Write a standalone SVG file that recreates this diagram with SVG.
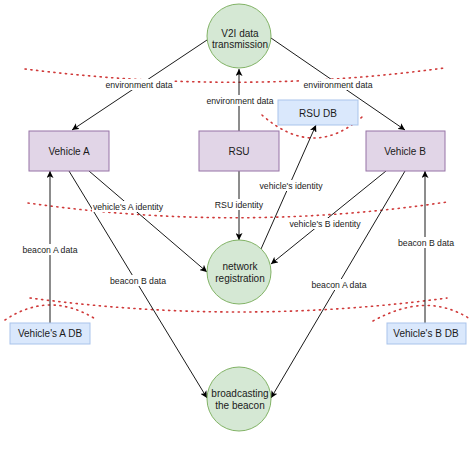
<svg xmlns="http://www.w3.org/2000/svg" width="474" height="453" viewBox="0 0 474 453">
<defs>
<marker id="arr" viewBox="0 0 10 10" refX="10" refY="5" markerWidth="7" markerHeight="7" orient="auto" markerUnits="userSpaceOnUse">
<path d="M0,0 L10,5 L0,10 L2.5,5 Z" fill="#000"/>
</marker>
<style>
.dot{fill:none;stroke:#d03a3a;stroke-width:1.6;stroke-dasharray:1.2 4.6;stroke-linecap:round}
.con{fill:none;stroke:#1a1a1a;stroke-width:1;marker-end:url(#arr)}
.veh{fill:#e1d5e7;stroke:#9673a6;stroke-width:1}
.circ{fill:#d5e8d4;stroke:#82b366;stroke-width:1}
.db{fill:#dae8fc;stroke:#a9c4eb;stroke-width:1}
.nt{font-family:"Liberation Sans",Arial,sans-serif;font-size:10px;fill:#1a1a1a;text-anchor:middle}
.lb{font-family:"Liberation Sans",Arial,sans-serif;font-size:8.7px;fill:#1a1a1a;text-anchor:middle}
.bg{fill:#fff}
</style>
</defs>
<rect width="474" height="453" fill="#fff"/>
<g id="boundaries">
<path class="dot" d="M25 69 Q239 96 444 68"/>
<path class="dot" d="M262 115 Q313 160 362 117"/>
<path class="dot" d="M28 203 Q239 233 447 202"/>
<path class="dot" d="M30 298 Q239 326 447 298"/>
<path class="dot" d="M5 320 Q50 290 97 320"/>
<path class="dot" d="M373 321 Q427 291 470 319"/>
</g>
<g id="connectors">
<path class="con" d="M207 40 L72 130"/>
<path class="con" d="M271 38 L405 130"/>
<path class="con" d="M239 131 L239 69"/>
<path class="con" d="M239 171 L239 240"/>
<path class="con" d="M261 249 L316 125"/>
<path class="con" d="M89 171 L207 272"/>
<path class="con" d="M386 171 L271 264"/>
<path class="con" d="M69 171 L207 398"/>
<path class="con" d="M405 171 L271 398"/>
<path class="con" d="M50 323 L50 171"/>
<path class="con" d="M425 323 L425 171"/>
<g id="labels">
<rect class="bg" x="104" y="79" width="70" height="11"/>
<text class="lb" x="139" y="87.5">environment data</text>
<rect class="bg" x="302" y="79" width="72" height="11"/>
<text class="lb" x="338" y="87.5">enviironment data</text>
<rect class="bg" x="205" y="95" width="70" height="11"/>
<text class="lb" x="240" y="103.5">environment data</text>
<rect class="bg" x="215" y="199" width="48" height="11"/>
<text class="lb" x="239" y="207.5">RSU identity</text>
<rect class="bg" x="259" y="180" width="65" height="11"/>
<text class="lb" x="291" y="188.5">vehicle's identity</text>
<rect class="bg" x="92" y="201" width="72" height="11"/>
<text class="lb" x="128" y="209.5">vehicle's A identity</text>
<rect class="bg" x="289" y="218" width="72" height="11"/>
<text class="lb" x="325" y="226.5">vehicle's B identity</text>
<rect class="bg" x="109" y="275" width="58" height="11"/>
<text class="lb" x="138" y="283.5">beacon B data</text>
<rect class="bg" x="310" y="279" width="58" height="11"/>
<text class="lb" x="339" y="287.5">beacon A data</text>
<rect class="bg" x="21" y="244" width="58" height="11"/>
<text class="lb" x="50" y="252.5">beacon A data</text>
<rect class="bg" x="397" y="237" width="58" height="11"/>
<text class="lb" x="426" y="245.5">beacon B data</text>
</g>
</g>
<g id="v2i">
<circle class="circ" cx="239" cy="36" r="32"/>
<text class="nt" x="240" y="37">V2I data</text>
<text class="nt" x="240" y="48">transmission</text>
</g>
<g id="vehicleA">
<rect class="veh" x="29" y="131" width="80" height="40"/>
<text class="nt" x="69" y="155">Vehicle A</text>
</g>
<g id="rsu">
<rect class="veh" x="199" y="131" width="80" height="40"/>
<text class="nt" x="239" y="155">RSU</text>
</g>
<g id="vehicleB">
<rect class="veh" x="366" y="131" width="79" height="40"/>
<text class="nt" x="405" y="155">Vehicle B</text>
</g>
<g id="rsuDB">
<rect class="db" x="278" y="100" width="80" height="25"/>
<text class="nt" x="318" y="116.5">RSU DB</text>
</g>
<g id="netreg">
<circle class="circ" cx="239" cy="272" r="32"/>
<text class="nt" x="240" y="270">network</text>
<text class="nt" x="240" y="282">registration</text>
</g>
<g id="broadcast">
<circle class="circ" cx="239" cy="399" r="32"/>
<text class="nt" x="240" y="397">broadcasting</text>
<text class="nt" x="240" y="408.5">the beacon</text>
</g>
<g id="vehADB">
<rect class="db" x="10" y="323" width="80" height="21"/>
<text class="nt" x="50" y="337">Vehicle's A DB</text>
</g>
<g id="vehBDB">
<rect class="db" x="387" y="323" width="79" height="21"/>
<text class="nt" x="426" y="337">Vehicle's B DB</text>
</g>
</svg>
